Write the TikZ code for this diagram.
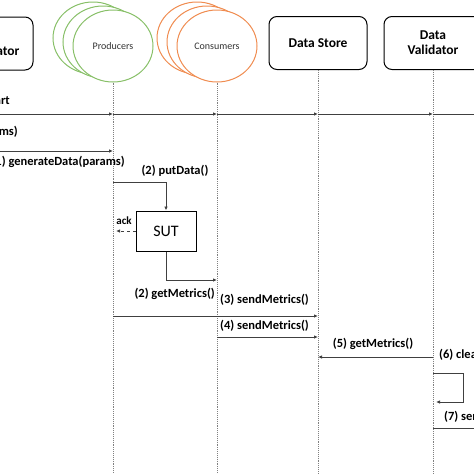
\documentclass[tikz,border=0pt]{standalone}
\usepackage{fontspec}
\setmainfont{Carlito}
\usetikzlibrary{arrows.meta,shapes.geometric}

\definecolor{prodgreen}{RGB}{136,192,104}
\definecolor{consorange}{RGB}{240,140,80}

\tikzset{
  actor/.style={draw,line width=1pt,rounded corners=8pt,minimum width=98pt,minimum height=53pt,align=center,font=\fontsize{13.5}{15}\selectfont\bfseries},
  crowd/.style={ellipse,draw,line width=1pt,fill=white,minimum width=80pt,minimum height=72pt,inner sep=0pt,font=\fontsize{10}{12}\selectfont,text=black!80},
  life/.style={gray,densely dotted,line width=0.9pt},
  line/.style={line width=0.9pt,black!75},
  msg/.style={line,-{Latex[length=4pt,width=3.5pt]}},
  lbl/.style={font=\fontsize{12.5}{14}\selectfont\bfseries,inner sep=1pt},
}

\begin{document}
\begin{tikzpicture}[x=1pt,y=-1pt]
\useasboundingbox (0,0) rectangle (474,474);
%\draw[step=10,gray,very thin] (0,0) grid (474,474); %background grid

% actors
\node[actor] (orch) at (-16,43.5) {Test\\Orchestrator};

\node[crowd,draw=prodgreen] at (93,38) {};
\node[crowd,draw=prodgreen] at (103,42) {};
\node[crowd,draw=prodgreen] (prod) at (113,46) {Producers};

\node[crowd,draw=consorange] at (197,38) {};
\node[crowd,draw=consorange] at (207,42) {};
\node[crowd,draw=consorange] (cons) at (217,46) {Consumers};

\node[actor] (store) at (318,43) {Data Store};
\node[actor] (valid) at (433,43) {Data\\Validator};

% lifelines
\coordinate (bot) at (0,474);
\draw[life] (prod.south) -- (prod |- bot);
\draw[life] (cons.south) -- (cons |- bot);
\draw[life] (store.south) -- (store |- bot);
\draw[life] (valid.south) -- (valid |- bot);

% start
\coordinate (r1) at (480,114);
\node[lbl,anchor=base east] at (11,104) {start};
\draw[msg] (orch |- r1) -- (prod |- r1);
\draw[msg] (prod |- r1) -- (cons |- r1);
\draw[msg] (cons |- r1) -- (store |- r1);
\draw[msg] (store |- r1) -- (valid |- r1);
\draw[line] (valid |- r1) -- (r1);

% (1)
\coordinate (r2) at (0,151);
\node[lbl,anchor=east] at (19,132) {(params)};
\draw[msg] (orch |- r2) -- (prod |- r2);
\node[lbl,anchor=east] at (126,162) {(1) generateData(params)};

% SUT
\node[draw,line width=1pt,minimum width=60pt,minimum height=40pt,font=\fontsize{16}{18}\selectfont] (sut) at (166,231) {SUT};
\coordinate (r3) at (0,182);
\draw[msg] (prod |- r3) -| (sut.north);
\node[lbl] at (175,171) {(2) putData()};
\draw[msg,dashed,shorten >=3pt] (sut.west) -- (prod |- sut.west);
\node[lbl,font=\fontsize{11}{13}\selectfont\bfseries] at (124,221) {ack};
\coordinate (r4) at (0,280);
\draw[msg] (sut.south) |- (cons |- r4);
\node[lbl,anchor=east] at (216,294) {(2) getMetrics()};

% metrics to store
\coordinate (r5) at (0,316);
\draw[msg] (prod |- r5) -- (store |- r5);
\node[lbl,anchor=west] at (219,300) {(3) sendMetrics()};
\coordinate (r6) at (0,337);
\draw[msg] (cons |- r6) -- (store |- r6);
\node[lbl,anchor=west] at (219,326) {(4) sendMetrics()};

% validator
\coordinate (r7) at (0,357);
\draw[msg] (valid |- r7) -- (store |- r7);
\node[lbl] at (373,344) {(5) getMetrics()};
\node[lbl,anchor=west] at (438,355) {(6) cleanData()};
\coordinate (r8) at (0,373);
\draw[msg] (valid |- r8) -- ++(30,0) -- ++(0,29) -- ++(-27,0);
\node[lbl,anchor=west] at (443,417) {(7) sendResult()};
\coordinate (r9) at (480,428);
\draw[line] (valid |- r9) -- (r9);

\end{tikzpicture}
\end{document}
